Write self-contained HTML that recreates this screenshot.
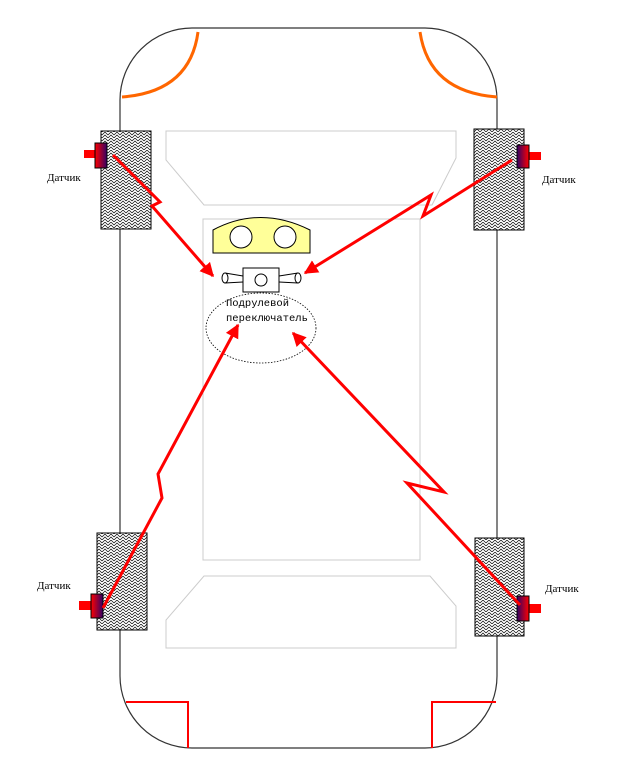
<!DOCTYPE html>
<html><head><meta charset="utf-8"><style>
html,body{margin:0;padding:0;background:#fff;width:617px;height:777px;overflow:hidden}
text{font-family:"Liberation Mono",monospace;font-size:10.5px;fill:#000}
.s{font-family:"Liberation Serif",serif;font-size:11px}
</style></head><body>
<svg width="617" height="777" viewBox="0 0 617 777" xmlns="http://www.w3.org/2000/svg">
<defs>
<pattern id="h" width="6" height="6" patternUnits="userSpaceOnUse">
<rect width="6" height="6" fill="#fff"/>
<path d="M0,3 L3,0 L6,3 M0,6 L3,3 L6,6" stroke="#000" stroke-width="0.7" fill="none"/>
</pattern>
<linearGradient id="g" x1="0" x2="1"><stop offset="0" stop-color="#f00"/><stop offset="1" stop-color="#306"/></linearGradient>
<linearGradient id="g2" x1="1" x2="0"><stop offset="0" stop-color="#f00"/><stop offset="1" stop-color="#306"/></linearGradient>
<marker id="a" markerWidth="14" markerHeight="14" refX="9" refY="5" orient="auto" markerUnits="userSpaceOnUse" viewBox="0 0 10 10"><path d="M0,0 L10,5 L0,10 Z" fill="#f00"/></marker>
</defs>
<rect x="120" y="28" width="377" height="720" rx="72" ry="72" fill="none" stroke="#333" stroke-width="1.2"/>
<path d="M122,97 Q190,92 198,32" stroke="#f60" stroke-width="3" fill="none"/>
<path d="M497,97 Q429,92 420,32" stroke="#f60" stroke-width="3" fill="none"/>
<polygon points="166,131 456,131 456,158 432,205 204,205 166,160" fill="none" stroke="#ccc"/>
<polygon points="204,576 430,576 456,606 456,648 166,648 166,620" fill="none" stroke="#ccc"/>
<rect x="203" y="219" width="217" height="341" fill="none" stroke="#ccc"/>
<path d="M213,253 L213,230 Q260,205 310,230 L310,253 Z" fill="#ffff99" stroke="#000"/>
<circle cx="241" cy="237" r="11" fill="#fff" stroke="#000"/>
<circle cx="285" cy="237" r="11" fill="#fff" stroke="#000"/>
<path d="M225,273 L243,276 M225,283 L243,282" stroke="#000"/>
<ellipse cx="225" cy="278" rx="3" ry="5" fill="#fff" stroke="#000"/>
<path d="M279,276 L298,273 M279,282 L298,283" stroke="#000"/>
<ellipse cx="298" cy="278" rx="3" ry="5" fill="#fff" stroke="#000"/>
<rect x="243" y="268" width="36" height="24" fill="#fff" stroke="#000"/>
<circle cx="261" cy="280" r="6" fill="#fff" stroke="#000"/>
<ellipse cx="261" cy="328" rx="55" ry="35" fill="none" stroke="#000" stroke-width="0.8" stroke-dasharray="1.5,1.5"/>
<text x="226" y="306">Подрулевой</text>
<text x="226" y="321">переключатель</text>
<rect x="101" y="131" width="50" height="98" fill="url(#h)" stroke="#000"/>
<rect x="474" y="129" width="50" height="101" fill="url(#h)" stroke="#000"/>
<rect x="97" y="533" width="50" height="97" fill="url(#h)" stroke="#000"/>
<rect x="475" y="538" width="49" height="98" fill="url(#h)" stroke="#000"/>
<rect x="84" y="150" width="11" height="8" fill="#f00"/>
<rect x="95" y="143" width="12" height="25" fill="url(#g)" stroke="#000"/>
<rect x="529" y="152" width="12" height="8" fill="#f00"/>
<rect x="517" y="145" width="12" height="23" fill="url(#g2)" stroke="#000"/>
<rect x="79" y="601" width="12" height="9" fill="#f00"/>
<rect x="91" y="594" width="12" height="24" fill="url(#g)" stroke="#000"/>
<rect x="529" y="604" width="12" height="9" fill="#f00"/>
<rect x="517" y="596" width="12" height="25" fill="url(#g2)" stroke="#000"/>
<text class="s" x="47" y="181">Датчик</text>
<text class="s" x="542" y="183">Датчик</text>
<text class="s" x="37" y="589">Датчик</text>
<text class="s" x="545" y="592">Датчик</text>
<g stroke="#f00" stroke-width="3" fill="none" marker-end="url(#a)">
<polyline points="113,155 160,202 152,206 213,276"/>
<polyline points="512,160 423,216 431,195 305,273"/>
<polyline points="103,608 162,498 158,474 238,325"/>
<polyline points="520,605 407,483 444,492 293,333"/>
</g>
<path d="M126,702 L188,702 L188,748" stroke="#f00" stroke-width="2" fill="none"/>
<path d="M496,702 L432,702 L432,748" stroke="#f00" stroke-width="2" fill="none"/>
</svg>
</body></html>
